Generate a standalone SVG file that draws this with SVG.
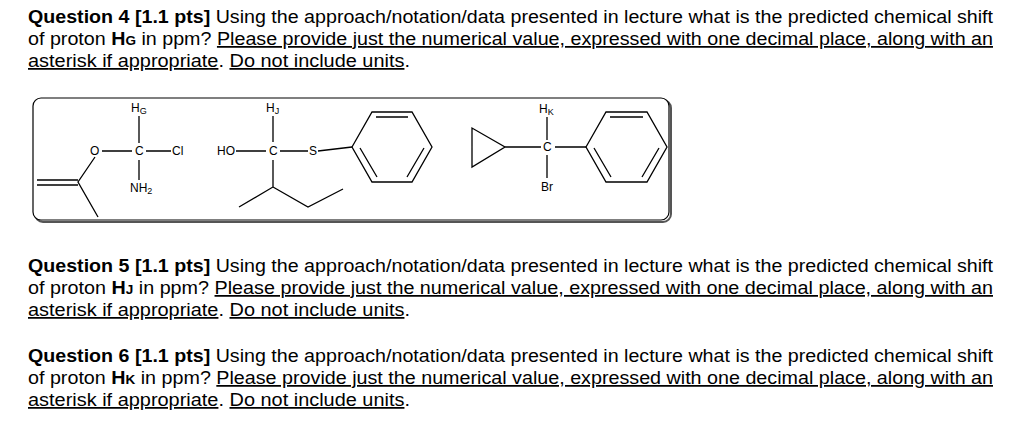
<svg xmlns="http://www.w3.org/2000/svg" width="1024" height="432" viewBox="0 0 1024 432">
<style>
.q{font-family:"Liberation Sans",Arial,sans-serif;font-size:17.5px;fill:#000}
.b{font-weight:bold}
.u{text-decoration:underline}
.a{font-family:"Liberation Sans",Arial,sans-serif;font-size:12px;fill:#000}
.s{font-size:9px}
.l{stroke:#000;stroke-width:1.3;fill:none}
</style>
<rect width="1024" height="432" fill="#fff"/>
<g id="q4">
<text class="q" x="28" y="23" textLength="965" lengthAdjust="spacingAndGlyphs"><tspan class="b">Question 4 [1.1 pts]</tspan> Using the approach/notation/data presented in lecture what is the predicted chemical shift</text>
<text class="q" x="28" y="45" textLength="965" lengthAdjust="spacingAndGlyphs">of proton <tspan class="b">H</tspan><tspan class="b" font-size="12">G</tspan> in ppm?  <tspan class="u">Please provide just the numerical value, expressed with one decimal place, along with an</tspan></text>
<text class="q" x="28" y="67" textLength="382" lengthAdjust="spacingAndGlyphs"><tspan class="u">asterisk if appropriate</tspan>.  <tspan class="u">Do not include units</tspan>.</text>
</g>
<g id="q5">
<text class="q" x="28" y="272" textLength="965" lengthAdjust="spacingAndGlyphs"><tspan class="b">Question 5 [1.1 pts]</tspan> Using the approach/notation/data presented in lecture what is the predicted chemical shift</text>
<text class="q" x="28" y="294" textLength="965" lengthAdjust="spacingAndGlyphs">of proton <tspan class="b">H</tspan><tspan class="b" font-size="12">J</tspan> in ppm?  <tspan class="u">Please provide just the numerical value, expressed with one decimal place, along with an</tspan></text>
<text class="q" x="28" y="316" textLength="382" lengthAdjust="spacingAndGlyphs"><tspan class="u">asterisk if appropriate</tspan>.  <tspan class="u">Do not include units</tspan>.</text>
</g>
<g id="q6">
<text class="q" x="28" y="362" textLength="965" lengthAdjust="spacingAndGlyphs"><tspan class="b">Question 6 [1.1 pts]</tspan> Using the approach/notation/data presented in lecture what is the predicted chemical shift</text>
<text class="q" x="28" y="384" textLength="965" lengthAdjust="spacingAndGlyphs">of proton <tspan class="b">H</tspan><tspan class="b" font-size="12">K</tspan> in ppm?  <tspan class="u">Please provide just the numerical value, expressed with one decimal place, along with an</tspan></text>
<text class="q" x="28" y="406" textLength="382" lengthAdjust="spacingAndGlyphs"><tspan class="u">asterisk if appropriate</tspan>.  <tspan class="u">Do not include units</tspan>.</text>
</g>
<g id="frame">
<rect x="35" y="100" width="636" height="122" rx="8" fill="none" stroke="#555" stroke-width="2"/>
<rect x="33" y="98" width="636" height="122" rx="8" fill="#fff" stroke="#000" stroke-width="1.2"/>
</g>
<g id="mol1">
<text class="a" x="131" y="112">H<tspan class="s" dy="2">G</tspan></text>
<text class="a" x="90" y="155">O</text>
<text class="a" x="135" y="155">C</text>
<text class="a" x="172" y="155">Cl</text>
<text class="a" x="130" y="192">NH<tspan class="s" dy="2">2</tspan></text>
<path class="l" d="M139,116V143M139,160V180M102,151H132M146,151H171M95,157L78,182L98,217M78,180H37M78,185H37"/>
</g>
<g id="mol2">
<text class="a" x="266" y="112">H<tspan class="s" dy="2">J</tspan></text>
<text class="a" x="217" y="155">HO</text>
<text class="a" x="269" y="155">C</text>
<text class="a" x="309" y="155">S</text>
<path class="l" d="M273,116V142M273,160V187L239,207M273,187L308,207L343,189M236,151H266M280,151H308M318,151L352,147"/>
<path class="l" d="M352,147L372,112H412L432,147L412,182H372Z M376,117H408 M424,148L407,177 M360,148L377,177"/>
</g>
<g id="mol3">
<text class="a" x="539" y="113">H<tspan class="s" dy="2">K</tspan></text>
<text class="a" x="543" y="151">C</text>
<text class="a" x="541" y="191">Br</text>
<path class="l" d="M472,128V167L505,147ZM505,147H541M555,147H586M547,117V140M547,155V178"/>
<path class="l" d="M586,147L606,112H647L667,147L647,182H606Z M610,117H643 M659,148L642,177 M594,148L611,177"/>
</g>
</svg>
